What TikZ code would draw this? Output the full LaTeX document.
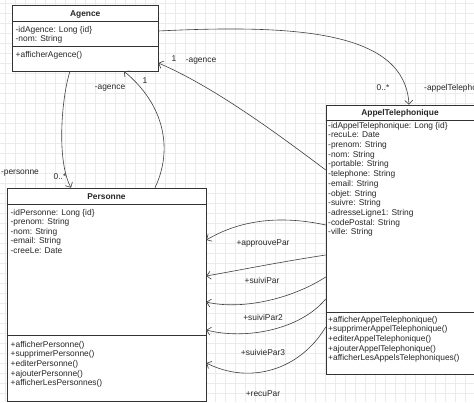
\documentclass[tikz,border=0pt]{standalone}
\usepackage{fontspec}
\setmainfont{Liberation Sans}
\usetikzlibrary{arrows.meta}

\providecommand*{\xMin}{}
\providecommand*{\xMax}{}
\providecommand*{\yMin}{}
\providecommand*{\yMax}{}
\renewcommand*{\xMin}{0}
\renewcommand*{\xMax}{474}
\renewcommand*{\yMin}{0}
\renewcommand*{\yMax}{402}

\tikzset{
  classbox/.style={draw=black!80,line width=0.6pt,fill=white,inner sep=0pt},
  classtitle/.style={font=\fontsize{8.4}{9.7}\selectfont\bfseries,inner sep=0pt,anchor=base,text=black!85},
  member/.style={font=\fontsize{8.4}{9.7}\selectfont,inner sep=0pt,anchor=base west,text=black!85},
  rolelabel/.style={font=\fontsize{8.4}{9.7}\selectfont,inner sep=0pt,text=black!85},
  assoc/.style={draw=black!75,line width=0.6pt,->}
}

\begin{document}
\begin{tikzpicture}[x=1pt,y=-1pt,>={Straight Barb[length=4pt,width=8pt]}]
  \useasboundingbox [fill=white] (\xMin,\yMin) rectangle (\xMax,\yMax);
  \foreach \i in {5,15,...,465} {
    \draw [very thin,black!8] (\i,\yMin) -- (\i,\yMax);
  }
  \foreach \j in {3,13,...,393} {
    \draw [very thin,black!8] (\xMin,\j) -- (\xMax,\j);
  }

  \node [classbox,minimum width=145.5pt,minimum height=66pt] (agence) at (85.25,38) {};
  \node [classtitle] (agenceT) at (85.25,16) {Agence};
  \draw [black!80,line width=0.6pt] (agence.west |- 0,21) -- (agence.east |- 0,21);
  \draw [black!80,line width=0.6pt] (agence.west |- 0,46.5) -- (agence.east |- 0,46.5);
  \foreach \t [count=\k] in {-idAgence: Long \{id\},-nom: String} {
    \node [member] (agenceA\k) at (15.5,{32+(\k-1)*9.5}) {\t};
  }
  \node [member] (agenceM1) at (15.5,57) {+afficherAgence()};

  \node [classbox,minimum width=154pt,minimum height=269pt] (appel) at (403,239.5) {};
  \node [classtitle] (appelT) at (400,115.5) {AppelTelephonique};
  \draw [black!80,line width=0.6pt] (appel.west |- 0,120.5) -- (appel.east |- 0,120.5);
  \draw [black!80,line width=0.6pt] (appel.west |- 0,312) -- (appel.east |- 0,312);
  \foreach \t [count=\k] in {-idAppelTelephonique: Long \{id\},-recuLe: Date,-prenom: String,
      -nom: String,-portable: String,-telephone: String,-email: String,-objet: String,
      -suivre: String,-adresseLigne1: String,-codePostal: String,-ville: String} {
    \node [member] (appelA\k) at (328,{128+(\k-1)*9.72}) {\t};
  }
  \foreach \t [count=\k] in {+afficherAppelTelephonique(),+supprimerAppelTelephonique(),
      +editerAppelTelephonique(),+ajouterAppelTelephonique(),+afficherLesAppelsTelephoniques()} {
    \node [member] (appelM\k) at (328,{322+(\k-1)*9.7}) {\t};
  }

  \node [classbox,minimum width=199pt,minimum height=213pt] (personne) at (106.5,294.5) {};
  \node [classtitle] (personneT) at (106.5,199) {Personne};
  \draw [black!80,line width=0.6pt] (personne.west |- 0,204) -- (personne.east |- 0,204);
  \draw [black!80,line width=0.6pt] (personne.west |- 0,335.5) -- (personne.east |- 0,335.5);
  \foreach \t [count=\k] in {-idPersonne: Long \{id\},-prenom: String,-nom: String,
      -email: String,-creeLe: Date} {
    \node [member] (personneA\k) at (10.5,{215+(\k-1)*9.6}) {\t};
  }
  \foreach \t [count=\k] in {+afficherPersonne(),+supprimerPersonne(),+editerPersonne(),
      +ajouterPersonne(),+afficherLesPersonnes()} {
    \node [member] (personneM\k) at (10.5,{347+(\k-1)*9.7}) {\t};
  }

  \coordinate (agR) at (agence.east |- 0,31);
  \coordinate (agRB) at (agence.east |- 0,63);
  \coordinate (agBL) at (agence.south -| 70,0);
  \coordinate (agBR) at (agence.south -| 124,0);
  \coordinate (apTop) at (appel.north -| 409,0);
  \coordinate (apL0) at (appel.west |- 0,170);
  \coordinate (peTL) at (personne.north -| 71,0);
  \coordinate (peTR) at (personne.north -| 155,0);
  \foreach \n/\ya/\yb in {1/225/240,2/255/276,3/277/302,4/299/330,5/327/363} {
    \coordinate (apL\n) at (appel.west |- 0,\ya);
    \coordinate (peR\n) at (personne.east |- 0,\yb);
  }

  \draw [assoc] (agR) .. controls (300,24) and (405,32) .. (apTop);
  \draw [assoc] (apL0) .. controls (270,128) and (210,85) .. (agRB);
  \draw [assoc] (agBL) .. controls (62,95) and (56,160) .. (peTL);
  \draw [assoc] (peTR) .. controls (173,150) and (165,105) .. (agBR);
  \draw [assoc] (apL1) .. controls (280,215) and (240,220) .. (peR1);
  \draw [assoc] (apL2) .. controls (280,262) and (240,270) .. (peR2);
  \draw [assoc] (apL3) .. controls (290,300) and (240,310) .. (peR3);
  \draw [assoc] (apL4) .. controls (300,330) and (245,340) .. (peR4);
  \draw [assoc] (apL5) .. controls (300,370) and (250,385) .. (peR5);

  \node [rolelabel] (lblAgOne) at (174,59) {1};
  \node [rolelabel] (lblAgRole) at (201,61) {-agence};
  \node [rolelabel] (lblPeAg) at (110,88) {-agence};
  \node [rolelabel] (lblPeOne) at (145,81) {1};
  \node [rolelabel] (lblPeRole) at (20,173) {-personne};
  \node [rolelabel] (lblPeMany) at (60,177) {0..*};
  \node [rolelabel] (lblApMany) at (383,88) {0..*};
  \node [rolelabel,anchor=west] (lblApRole) at (424,88) {-appelTelephonique};
  \node [rolelabel] (lblApprouve) at (263,243) {+approuvePar};
  \node [rolelabel] (lblSuivi) at (262,280) {+suiviPar};
  \node [rolelabel] (lblSuiviB) at (263,317) {+suiviPar2};
  \node [rolelabel] (lblSuivie) at (263,352) {+suiviePar3};
  \node [rolelabel] (lblRecu) at (263,394) {+recuPar};
\end{tikzpicture}
\end{document}
